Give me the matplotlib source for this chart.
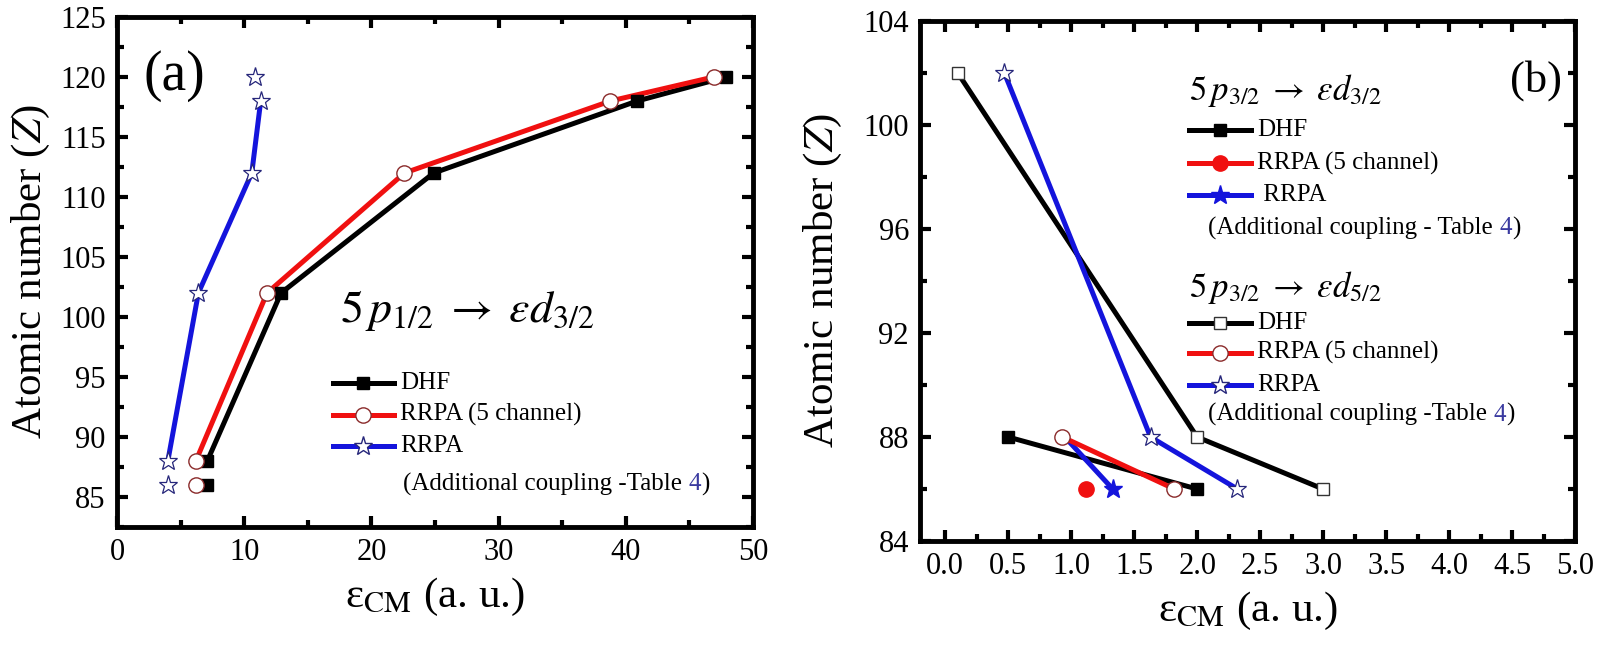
import matplotlib
matplotlib.use("Agg")
import matplotlib.pyplot as plt
from matplotlib.ticker import MultipleLocator

plt.rcParams["font.family"] = ["Liberation Serif", "DejaVu Serif"]
plt.rcParams["mathtext.fontset"] = "stix"

# panel (a): 5p1/2 -> ed3/2
z_a = [86, 88, 102, 112, 118, 120]
dhf_a = [7.1, 7.1, 12.9, 24.9, 40.9, 47.9]
rrpa5_a = [6.2, 6.2, 11.8, 22.6, 38.8, 46.9]
rrpa_add_a = [4.0, 4.0, 6.4, 10.6, 11.3, 10.85]

# panel (b): 5p3/2 -> ed3/2
z_b32_dhf = [88, 86]
dhf_b32 = [0.5, 2.0]
z_b32_rrpa5 = [86]
rrpa5_b32 = [1.12]
z_b32_add = [88, 86]
rrpa_add_b32 = [0.95, 1.33]

# panel (b): 5p3/2 -> ed5/2
z_b52_dhf = [102, 88, 86]
dhf_b52 = [0.1, 2.0, 3.0]
z_b52_rrpa5 = [88, 86]
rrpa5_b52 = [0.93, 1.82]
z_b52_add = [102, 88, 86]
rrpa_add_b52 = [0.47, 1.63, 2.32]

BLACK = "black"
RED = "#f01010"
BLUE = "#1414dc"
NAVY = "#26267a"
CIRC_EDGE = "#8a2a2a"
TAB_BLUE = "#3a3aa0"

fig = plt.figure(figsize=(16, 6.46), dpi=100)
ax1 = fig.add_axes([0.0731, 0.1842, 0.3975, 0.7895])
ax2 = fig.add_axes([0.575, 0.1625, 0.4094, 0.805])


def style_axes(ax):
    for s in ax.spines.values():
        s.set_linewidth(3.5)
    ax.tick_params(which="both", direction="in", top=True, right=True,
                   width=3, labelsize=22)
    ax.tick_params(which="major", length=8, pad=8)
    ax.tick_params(which="minor", length=5)


def add_note(ax, x, y, prefix="(Additional coupling -Table ", size=18):
    # "(Additional coupling -Table 4)" with a blue 4
    t1 = ax.text(x, y, prefix, transform=ax.transAxes,
                 fontsize=size, va="baseline")
    fig.canvas.draw()
    inv = ax.transAxes.inverted()
    x1 = inv.transform(t1.get_window_extent().get_points())[1][0]
    t2 = ax.text(x1, y, "4", transform=ax.transAxes, fontsize=size,
                 va="baseline", color=TAB_BLUE)
    fig.canvas.draw()
    x2 = inv.transform(t2.get_window_extent().get_points())[1][0]
    ax.text(x2, y, ")", transform=ax.transAxes, fontsize=size, va="baseline")


def legend_row(ax, x, y, label, color, marker, ms, mfc, mec, size=18):
    ax.plot([x, x + 0.095], [y, y], color=color, lw=3.6,
            transform=ax.transAxes, clip_on=False)
    ax.plot([x + 0.0475], [y], marker=marker, ms=ms, mfc=mfc, mec=mec, mew=1,
            transform=ax.transAxes, clip_on=False, ls="none")
    ax.text(x + 0.105, y, label, transform=ax.transAxes, fontsize=size,
            va="center")


# ---- panel (a)
ax1.plot(dhf_a[1:], z_a[1:], color=BLACK, lw=3.6, zorder=2)
ax1.plot(rrpa5_a[1:], z_a[1:], color=RED, lw=3.6, zorder=2)
ax1.plot(rrpa_add_a[1:5], z_a[1:5], color=BLUE, lw=3.6, zorder=2)
ax1.plot(dhf_a, z_a, ls="none", marker="s", ms=9, color=BLACK, zorder=3)
ax1.plot(rrpa5_a, z_a, ls="none", marker="o", ms=11, mfc="white",
         mec=CIRC_EDGE, mew=1, zorder=4)
ax1.plot(rrpa_add_a, z_a, ls="none", marker="*", ms=14, mfc="white",
         mec=NAVY, mew=0.9, zorder=4)

ax1.set_xlim(0, 50)
ax1.set_ylim(82.5, 125)
ax1.xaxis.set_major_locator(MultipleLocator(10))
ax1.xaxis.set_minor_locator(MultipleLocator(5))
ax1.yaxis.set_major_locator(MultipleLocator(5))
ax1.yaxis.set_minor_locator(MultipleLocator(2.5))
style_axes(ax1)
ax1.set_xlabel("ε$_{\\mathrm{CM}}$ (a. u.)", fontsize=31, labelpad=6)
ax1.set_ylabel("Atomic number ($Z$)", fontsize=31, labelpad=6)

ax1.text(0.09, 0.885, "(a)", transform=ax1.transAxes, fontsize=40,
         ha="center", va="center")
ax1.text(0.35, 0.425, r"$5\,p_{1/2}\;\rightarrow\;\varepsilon d_{3/2}$",
         transform=ax1.transAxes, fontsize=33, va="center")

legend_row(ax1, 0.34, 0.282, "DHF", BLACK, "s", 9, BLACK, BLACK)
legend_row(ax1, 0.34, 0.220, "RRPA (5 channel)", RED, "o", 11, "white",
           CIRC_EDGE)
legend_row(ax1, 0.34, 0.159, "RRPA", BLUE, "*", 14, "white", NAVY)
add_note(ax1, 0.45, 0.072)

# ---- panel (b)
ax2.plot(dhf_b52, z_b52_dhf, color=BLACK, lw=3.6, zorder=2)
ax2.plot(rrpa_add_b52, z_b52_add, color=BLUE, lw=3.6, zorder=2)
ax2.plot(dhf_b32, z_b32_dhf, color=BLACK, lw=3.6, zorder=2)
ax2.plot(rrpa_add_b32, z_b32_add, color=BLUE, lw=3.6, zorder=2)
ax2.plot(rrpa5_b52, z_b52_rrpa5, color=RED, lw=3.6, zorder=2)

ax2.plot(dhf_b32, z_b32_dhf, ls="none", marker="s", ms=9, color=BLACK,
         zorder=3)
ax2.plot(rrpa5_b32, z_b32_rrpa5, ls="none", marker="o", ms=11, color=RED,
         zorder=3)
ax2.plot(rrpa_add_b32[1:], z_b32_add[1:], ls="none", marker="*", ms=14,
         color=BLUE, zorder=3)
ax2.plot(dhf_b52, z_b52_dhf, ls="none", marker="s", ms=9, mfc="white",
         mec="#333333", mew=1, zorder=4)
ax2.plot(rrpa5_b52, z_b52_rrpa5, ls="none", marker="o", ms=11, mfc="white",
         mec=CIRC_EDGE, mew=1, zorder=4)
ax2.plot(rrpa_add_b52, z_b52_add, ls="none", marker="*", ms=14, mfc="white",
         mec=NAVY, mew=0.9, zorder=4)

ax2.set_xlim(-0.2, 5.0)
ax2.set_ylim(84, 104)
ax2.xaxis.set_major_locator(MultipleLocator(0.5))
ax2.xaxis.set_minor_locator(MultipleLocator(0.25))
ax2.yaxis.set_major_locator(MultipleLocator(4))
ax2.yaxis.set_minor_locator(MultipleLocator(2))
ax2.xaxis.set_major_formatter(plt.FormatStrFormatter("%.1f"))
style_axes(ax2)
ax2.set_xlabel("ε$_{\\mathrm{CM}}$ (a. u.)", fontsize=31, labelpad=6)
ax2.set_ylabel("Atomic number ($Z$)", fontsize=31, labelpad=14)

ax2.text(0.94, 0.885, "(b)", transform=ax2.transAxes, fontsize=32,
         ha="center", va="center")
ax2.text(0.41, 0.867, r"$5\,p_{3/2}\;\rightarrow\;\varepsilon d_{3/2}$",
         transform=ax2.transAxes, fontsize=25, va="center")
legend_row(ax2, 0.41, 0.790, "DHF", BLACK, "s", 9, BLACK, BLACK)
legend_row(ax2, 0.41, 0.727, "RRPA (5 channel)", RED, "o", 11, RED, RED)
legend_row(ax2, 0.41, 0.665, " RRPA", BLUE, "*", 14, BLUE, BLUE)
add_note(ax2, 0.44, 0.590, prefix="(Additional coupling - Table ")

ax2.text(0.41, 0.488, r"$5\,p_{3/2}\;\rightarrow\;\varepsilon d_{5/2}$",
         transform=ax2.transAxes, fontsize=25, va="center")
legend_row(ax2, 0.41, 0.419, "DHF", BLACK, "s", 9, "white", "#333333")
legend_row(ax2, 0.41, 0.362, "RRPA (5 channel)", RED, "o", 11, "white",
           CIRC_EDGE)
legend_row(ax2, 0.41, 0.300, "RRPA", BLUE, "*", 14, "white", NAVY)
add_note(ax2, 0.44, 0.231)

fig.savefig("out.png", dpi=100)
